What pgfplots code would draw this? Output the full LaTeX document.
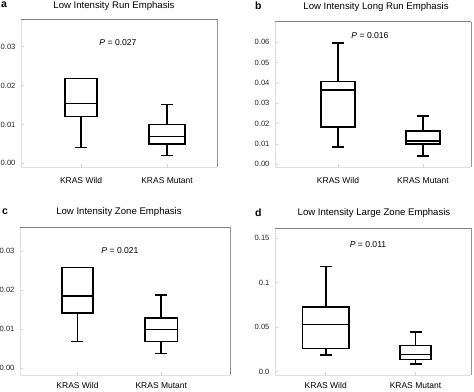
\documentclass[border=0pt]{standalone}
\usepackage{pgfplots}
\pgfplotsset{compat=1.18}
\usepackage{fontspec}
\setmainfont{Liberation Sans}

\pgfplotsset{
  panel/.style={
    scale only axis, anchor=south west,
    axis line style={draw=none},
    tick align=inside, xtick pos=bottom, ytick pos=left,
    major tick length=3pt,
    every tick/.style={black!18, line width=0.6pt},
    xtick={1,2}, xticklabels={KRAS Wild, KRAS Mutant},
    xticklabel style={font=\fontsize{8.5}{10}\selectfont, yshift=-7pt},
    yticklabel style={font=\fontsize{7.6}{9}\selectfont, text=black!85, xshift=-2pt},
    scaled y ticks=false,
    /pgf/number format/assume math mode=true,
    clip=false,
  },
  bx/.style={black, line width=1.6pt, solid, mark=none, line join=miter},
}
\newcommand{\frameLines}{%
  \draw[black!12, line width=0.8pt] (rel axis cs:0,1) -- (rel axis cs:0,0) -- (rel axis cs:1,0);
  \draw[black!50, line width=0.9pt] (rel axis cs:0,1) -- (rel axis cs:1,1);
  \draw[black!42, line width=0.9pt] (rel axis cs:1,1) -- (rel axis cs:1,0);
}
% box: left x, right x, lower quartile, median, upper quartile
\newcommand{\boxp}[5]{%
  \addplot[bx, fill=white] coordinates {(#1,#3) (#2,#3) (#2,#5) (#1,#5)} -- cycle;
  \addplot[bx] coordinates {(#1,#4) (#2,#4)};
}
% whisker: x, from (quartile), to (whisker end, capped)
\newcommand{\whisk}[3]{%
  \addplot[bx, mark=-, mark size=6pt, mark options={solid, line width=1.6pt}] coordinates {(#1,#2) (#1,#3)};
}

\begin{document}
\begin{tikzpicture}
\useasboundingbox (0pt,0pt) rectangle (474pt,391pt);
\clip (0pt,0pt) rectangle (474pt,391pt);
\fill[white] (0pt,0pt) rectangle (474pt,391pt);

% ---------- panel a ----------
\begin{axis}[panel, at={(21pt,224pt)}, width=196pt, height=148pt,
  xmin=0.302, xmax=2.581, ymin=-0.00095, ymax=0.0371,
  ytick={0,0.01,0.02,0.03}, yticklabels={0.00,0.01,0.02,0.03}]
\frameLines
\whisk{1}{0.0120}{0.0041}
\boxp{0.815}{1.185}{0.0120}{0.0154}{0.0218}
\whisk{2}{0.0050}{0.0020}
\whisk{2}{0.0100}{0.0151}
\boxp{1.79}{2.21}{0.0050}{0.0069}{0.0100}
\end{axis}

% ---------- panel b ----------
\begin{axis}[panel, at={(275pt,224pt)}, width=196pt, height=145.3pt,
  xmin=0.259, xmax=2.565, ymin=-0.0013, ymax=0.0701,
  ytick={0,0.01,0.02,0.03,0.04,0.05,0.06},
  yticklabels={0.00,0.01,0.02,0.03,0.04,0.05,0.06}]
\frameLines
\whisk{1}{0.0185}{0.0085}
\whisk{1}{0.0407}{0.0597}
\boxp{0.80}{1.20}{0.0185}{0.0364}{0.0407}
\whisk{2}{0.0100}{0.0041}
\whisk{2}{0.0164}{0.0239}
\boxp{1.80}{2.20}{0.0100}{0.0115}{0.0164}
\end{axis}

% ---------- panel c ----------
\begin{axis}[panel, at={(20pt,16pt)}, width=210pt, height=147.7pt,
  xmin=0.314, xmax=2.820, ymin=-0.0017, ymax=0.0361,
  ytick={0,0.01,0.02,0.03}, yticklabels={0.00,0.01,0.02,0.03},
  xticklabel style={yshift=3pt}]
\frameLines
\whisk{1}{0.0142}{0.0069}
\boxp{0.815}{1.185}{0.0142}{0.0185}{0.0258}
\whisk{2}{0.0069}{0.0038}
\whisk{2}{0.0129}{0.0188}
\boxp{1.805}{2.195}{0.0069}{0.0099}{0.0129}
\end{axis}

% ---------- panel d ----------
\begin{axis}[panel, at={(275pt,16pt)}, width=196pt, height=146.7pt,
  xmin=0.435, xmax=2.618, ymin=-0.0037, ymax=0.161,
  ytick={0,0.05,0.1,0.15}, yticklabels={0.0,0.05,0.1,0.15},
  xticklabel style={yshift=3pt}]
\frameLines
\whisk{1}{0.0262}{0.0187}
\whisk{1}{0.0724}{0.118}
\boxp{0.74}{1.26}{0.0262}{0.0532}{0.0724}
\whisk{2}{0.0139}{0.0086}
\whisk{2}{0.0296}{0.0446}
\boxp{1.825}{2.175}{0.0139}{0.0195}{0.0296}
\end{axis}

% ---------- titles, letters, P values ----------
\begin{scope}[every node/.style={inner sep=0pt}]
\node[font=\fontsize{9.6}{11}\selectfont] at (114pt,384.5pt) {Low Intensity Run Emphasis};
\node[font=\fontsize{9.6}{11}\selectfont] at (376pt,384pt) {Low Intensity Long Run Emphasis};
\node[font=\fontsize{9.6}{11}\selectfont] at (119pt,178.5pt) {Low Intensity Zone Emphasis};
\node[font=\fontsize{9.6}{11}\selectfont] at (374pt,177.5pt) {Low Intensity Large Zone Emphasis};
\node[font=\bfseries\fontsize{10.5}{12}\selectfont, anchor=west] at (1pt,386pt) {a};
\node[font=\bfseries\fontsize{10.5}{12}\selectfont, anchor=west] at (255pt,385pt) {b};
\node[font=\bfseries\fontsize{10.5}{12}\selectfont, anchor=west] at (2pt,179pt) {c};
\node[font=\bfseries\fontsize{10.5}{12}\selectfont, anchor=west] at (255pt,178pt) {d};
\node[font=\fontsize{8.6}{10}\selectfont] at (118pt,348.3pt) {\textit{P} = 0.027};
\node[font=\fontsize{8.6}{10}\selectfont] at (370pt,355pt) {\textit{P} = 0.016};
\node[font=\fontsize{8.6}{10}\selectfont] at (120pt,140.3pt) {\textit{P} = 0.021};
\node[font=\fontsize{8.6}{10}\selectfont] at (368pt,146pt) {\textit{P} = 0.011};
\end{scope}
\end{tikzpicture}
\end{document}
